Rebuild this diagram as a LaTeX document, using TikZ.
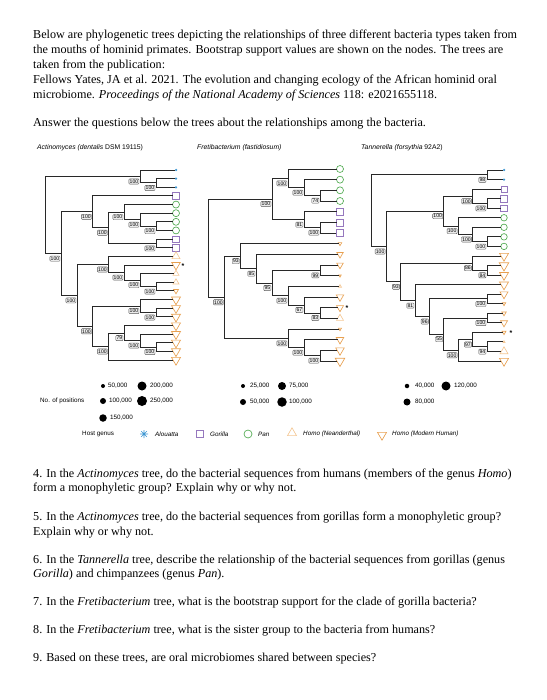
\documentclass[tikz,border=0pt]{standalone}
\usepackage{fontspec}
\setmainfont{Liberation Serif}
\setsansfont{Liberation Sans}
\usetikzlibrary{shapes.geometric}
\definecolor{aloc}{RGB}{60,150,210}
\definecolor{gorc}{RGB}{150,120,190}
\definecolor{panc}{RGB}{80,170,80}
\definecolor{neac}{RGB}{245,200,150}
\definecolor{modc}{RGB}{232,160,80}
\definecolor{brc}{RGB}{40,40,40}
\newcommand\tedge[2]{\draw[br] (#1) |- (#2);}
\newcommand\bsv[3]{\node[bs] (#1) at ([xshift=-0.8pt,yshift=-5pt]#2) {#3};}
\begin{document}
\begin{tikzpicture}[x=1pt,y=-1pt,
 br/.style={draw=brc,line width=0.9pt},
 bs/.style={draw=black!65,fill=black!8,rounded corners=0.9pt,line width=0.4pt,inner sep=0.8pt,anchor=east,font=\sffamily\fontsize{5.1}{5.1}\selectfont},
 tipsym/.style={inner sep=0pt,outer sep=0pt,fill=white,line width=0.65pt},
 alo/.style={circle,fill=aloc,inner sep=0pt,outer sep=0pt,minimum size=#1},
 gor/.style={tipsym,rectangle,draw=gorc,minimum size=#1},
 pan/.style={tipsym,circle,draw=panc,minimum size=#1},
 nea/.style={tipsym,regular polygon,regular polygon sides=3,draw=neac,minimum size={1.155*#1}},
 mod/.style={tipsym,regular polygon,regular polygon sides=3,shape border rotate=180,draw=modc,minimum size={1.155*#1}},
 starmk/.style={anchor=base,inner sep=0pt,font=\sffamily\bfseries\fontsize{7}{7}\selectfont},
 body/.style={anchor=base west,inner sep=0pt,font=\fontsize{12.15}{14}\selectfont},
 ttl/.style={anchor=west,inner sep=0pt,font=\sffamily\fontsize{6.8}{7}\selectfont},
 lg/.style={anchor=west,inner sep=0pt,font=\sffamily\fontsize{6.3}{7}\selectfont},
 dot/.style={circle,fill=black,inner sep=0pt,minimum size=#1}
]
\useasboundingbox (0,0) rectangle (546,700);
\fill[white] (0,0) rectangle (546,700);

% ---------------- text above ----------------
\node[body] (l1) at (33,38.5) {Below are phylogenetic trees depicting the relationships of three different bacteria types taken from};
\node[body] (l2) at (33,53.5) {the mouths of hominid primates. Bootstrap support values are shown on the nodes. The trees are};
\node[body] (l3) at (33,68.5) {taken from the publication:};
\node[body] (l4) at (33,83.5) {Fellows Yates, JA et al. 2021. The evolution and changing ecology of the African hominid oral};
\node[body] (l5) at (33,98.5) {microbiome. \textit{Proceedings of the National Academy of Sciences} 118: e2021655118.};
\node[body] (l6) at (33,126.5) {Answer the questions below the trees about the relationships among the bacteria.};

% ---------------- titles ----------------
\node[ttl] (ti1) at (37,148) {\textit{Actinomyces (dentalis} DSM 19115)};
\node[ttl] (ti2) at (197,148) {\textit{Fretibacterium (fastidiosum)}};
\node[ttl] (ti3) at (361,148) {\textit{Tannerella (forsythia} 92A2)};

% ================= Tree 1: Actinomyces =================
\node[alo=2.5] (a1) at (176,170.00) {};
\node[alo=2.5] (a2) at (176,178.64) {};
\node[alo=2.5] (a3) at (176,187.27) {};
\node[gor=6.5] (a4) at (176,195.91) {};
\node[pan=7] (a5) at (176,204.55) {};
\node[pan=7] (a6) at (176,213.18) {};
\node[pan=7] (a7) at (176,221.82) {};
\node[pan=7] (a8) at (176,230.45) {};
\node[gor=6.5] (a9) at (176,239.09) {};
\node[gor=6.5] (a10) at (176,247.73) {};
\node[nea=8] (a11) at (176,256.36) {};
\node[mod=8.5] (a12) at (176,265.00) {};
\node[nea=6] (a13) at (176,273.64) {};
\node[nea=6] (a14) at (176,282.27) {};
\node[mod=5] (a15) at (176,290.91) {};
\node[mod=9] (a16) at (176,299.55) {};
\node[mod=9] (a17) at (176,308.18) {};
\node[mod=9] (a18) at (176,316.82) {};
\node[mod=9] (a19) at (176,325.45) {};
\node[mod=9] (a20) at (176,334.09) {};
\node[mod=9] (a21) at (176,342.73) {};
\node[mod=9] (a22) at (176,351.36) {};
\node[mod=9] (a23) at (176,360.00) {};
\node[starmk] (as) at (183,268) {*};

\coordinate (an1) at (156,182.95);
\coordinate (an2) at (140,176.48);
\coordinate (an3) at (156,226.14);
\coordinate (an4) at (140,219.66);
\coordinate (an5) at (124,212.10);
\coordinate (an6) at (156,243.41);
\coordinate (an7) at (108.5,227.76);
\coordinate (an8) at (92.5,211.83);
\coordinate (an9) at (156,286.59);
\coordinate (an10) at (140,280.11);
\coordinate (an11) at (124,272.56);
\coordinate (an12) at (108.5,264.46);
\coordinate (an13) at (156,312.50);
\coordinate (an14) at (140,306.02);
\coordinate (an15) at (156,347.05);
\coordinate (an16) at (140,340.57);
\coordinate (an17) at (124,333.01);
\coordinate (an18) at (108.5,346.51);
\coordinate (an19) at (92.5,326.27);
\coordinate (an20) at (77,295.36);
\coordinate (an21) at (61,253.60);
\coordinate (an22) at (45,215.04);

\tedge{an1}{a2}\tedge{an1}{a3}
\tedge{an2}{a1}\tedge{an2}{an1}
\tedge{an3}{a7}\tedge{an3}{a8}
\tedge{an4}{a6}\tedge{an4}{an3}
\tedge{an5}{a5}\tedge{an5}{an4}
\tedge{an6}{a9}\tedge{an6}{a10}
\tedge{an7}{an5}\tedge{an7}{an6}
\tedge{an8}{a4}\tedge{an8}{an7}
\tedge{an9}{a14}\tedge{an9}{a15}
\tedge{an10}{a13}\tedge{an10}{an9}
\tedge{an11}{a12}\tedge{an11}{an10}
\tedge{an12}{a11}\tedge{an12}{an11}
\tedge{an13}{a17}\tedge{an13}{a18}
\tedge{an14}{a16}\tedge{an14}{an13}
\tedge{an15}{a21}\tedge{an15}{a22}
\tedge{an16}{a20}\tedge{an16}{an15}
\tedge{an17}{a19}\tedge{an17}{an16}
\tedge{an18}{an17}\tedge{an18}{a23}
\tedge{an19}{an14}\tedge{an19}{an18}
\tedge{an20}{an12}\tedge{an20}{an19}
\tedge{an21}{an8}\tedge{an21}{an20}
\tedge{an22}{an2}\tedge{an22}{an21}

\bsv{al1}{an1}{100}\bsv{al2}{an2}{100}\bsv{al3}{an3}{100}\bsv{al4}{an4}{100}
\bsv{al5}{an5}{100}\bsv{al6}{an6}{100}\bsv{al7}{an7}{100}\bsv{al8}{an8}{100}
\bsv{al9}{an9}{100}\bsv{al10}{an10}{100}\bsv{al11}{an11}{100}\bsv{al12}{an12}{100}
\bsv{al13}{an13}{100}\bsv{al14}{an14}{100}\bsv{al15}{an15}{100}\bsv{al16}{an16}{100}
\bsv{al17}{an17}{79}\bsv{al18}{an18}{100}\bsv{al19}{an19}{100}\bsv{al20}{an20}{100}
\bsv{al21}{an21}{100}

% ================= Tree 2: Fretibacterium =================
\node[pan=7] (f1) at (340,169.00) {};
\node[pan=7] (f2) at (340,179.67) {};
\node[pan=7] (f3) at (340,190.33) {};
\node[pan=7] (f4) at (340,201.00) {};
\node[gor=7] (f5) at (340,211.67) {};
\node[gor=7] (f6) at (340,222.33) {};
\node[gor=7.5] (f7) at (340,233.00) {};
\node[mod=3.5] (f8) at (340,243.67) {};
\node[mod=6.5] (f9) at (340,254.33) {};
\node[mod=6.5] (f10) at (340,265.00) {};
\node[mod=2.5] (f11) at (340,275.67) {};
\node[nea=3] (f12) at (340,286.33) {};
\node[mod=7.5] (f13) at (340,297.00) {};
\node[mod=7] (f14) at (340,307.67) {};
\node[nea=7] (f15) at (340,318.33) {};
\node[mod=3] (f16) at (340,329.00) {};
\node[mod=7.5] (f17) at (340,339.67) {};
\node[mod=8.5] (f18) at (340,350.33) {};
\node[mod=9.5] (f19) at (340,361.00) {};
\node[starmk] (fs) at (347,310.5) {*};

\coordinate (fn1) at (320,195.67);
\coordinate (fn2) at (304,187.67);
\coordinate (fn3) at (288,178.33);
\coordinate (fn4) at (320,227.67);
\coordinate (fn5) at (304,219.67);
\coordinate (fn6) at (272,199.00);
\coordinate (fn7) at (320,270.33);
\coordinate (fn8) at (320,313.00);
\coordinate (fn9) at (304,305.00);
\coordinate (fn10) at (288,295.67);
\coordinate (fn11) at (272,283.00);
\coordinate (fn12) at (256,268.67);
\coordinate (fn13) at (240.5,256.17);
\coordinate (fn14) at (320,355.67);
\coordinate (fn15) at (304,347.67);
\coordinate (fn16) at (288,338.33);
\coordinate (fn17) at (224.5,297.25);
\coordinate (fn18) at (208.5,248.13);

\tedge{fn1}{f3}\tedge{fn1}{f4}
\tedge{fn2}{f2}\tedge{fn2}{fn1}
\tedge{fn3}{f1}\tedge{fn3}{fn2}
\tedge{fn4}{f6}\tedge{fn4}{f7}
\tedge{fn5}{f5}\tedge{fn5}{fn4}
\tedge{fn6}{fn3}\tedge{fn6}{fn5}
\tedge{fn7}{f10}\tedge{fn7}{f11}
\tedge{fn8}{f14}\tedge{fn8}{f15}
\tedge{fn9}{f13}\tedge{fn9}{fn8}
\tedge{fn10}{f12}\tedge{fn10}{fn9}
\tedge{fn11}{fn7}\tedge{fn11}{fn10}
\tedge{fn12}{f9}\tedge{fn12}{fn11}
\tedge{fn13}{f8}\tedge{fn13}{fn12}
\tedge{fn14}{f18}\tedge{fn14}{f19}
\tedge{fn15}{f17}\tedge{fn15}{fn14}
\tedge{fn16}{f16}\tedge{fn16}{fn15}
\tedge{fn17}{fn13}\tedge{fn17}{fn16}
\tedge{fn18}{fn6}\tedge{fn18}{fn17}

\bsv{fl1}{fn1}{74}\bsv{fl2}{fn2}{100}\bsv{fl3}{fn3}{100}\bsv{fl4}{fn4}{100}
\bsv{fl5}{fn5}{81}\bsv{fl6}{fn6}{100}\bsv{fl7}{fn7}{99}\bsv{fl8}{fn8}{83}
\bsv{fl9}{fn9}{67}\bsv{fl10}{fn10}{100}\bsv{fl11}{fn11}{95}\bsv{fl12}{fn12}{85}
\bsv{fl13}{fn13}{93}\bsv{fl14}{fn14}{100}\bsv{fl15}{fn15}{100}\bsv{fl16}{fn16}{100}
\bsv{fl17}{fn17}{100}

% ================= Tree 3: Tannerella =================
\node[alo=2.5] (t1) at (504,170.00) {};
\node[alo=2.5] (t2) at (504,179.55) {};
\node[gor=6] (t3) at (504,189.10) {};
\node[gor=6.5] (t4) at (504,198.65) {};
\node[gor=6.5] (t5) at (504,208.20) {};
\node[pan=6.5] (t6) at (504,217.75) {};
\node[pan=6.5] (t7) at (504,227.30) {};
\node[pan=6.5] (t8) at (504,236.85) {};
\node[pan=6.5] (t9) at (504,246.40) {};
\node[mod=9] (t10) at (504,255.95) {};
\node[mod=9.5] (t11) at (504,265.50) {};
\node[mod=9] (t12) at (504,275.05) {};
\node[mod=9] (t13) at (504,284.60) {};
\node[mod=8] (t14) at (504,294.15) {};
\node[mod=3.5] (t15) at (504,303.70) {};
\node[mod=4.5] (t16) at (504,313.25) {};
\node[mod=7] (t17) at (504,322.80) {};
\node[mod=4] (t18) at (504,332.35) {};
\node[nea=2] (t19) at (504,341.90) {};
\node[nea=8] (t20) at (504,351.45) {};
\node[mod=9] (t21) at (504,361.00) {};
\node[starmk] (ts) at (511,335.3) {*};

\coordinate (tn1) at (487,174.78);
\coordinate (tn2) at (487,203.43);
\coordinate (tn3) at (472.6,196.26);
\coordinate (tn4) at (487,241.63);
\coordinate (tn5) at (472.6,234.46);
\coordinate (tn6) at (458.2,226.11);
\coordinate (tn7) at (443.8,211.18);
\coordinate (tn8) at (487,270.28);
\coordinate (tn9) at (472.6,263.11);
\coordinate (tn10) at (487,298.93);
\coordinate (tn11) at (487,318.03);
\coordinate (tn12) at (487,346.68);
\coordinate (tn13) at (472.6,339.51);
\coordinate (tn14) at (458.2,350.26);
\coordinate (tn15) at (443.8,334.14);
\coordinate (tn16) at (429.4,316.54);
\coordinate (tn17) at (415,300.57);
\coordinate (tn18) at (400.6,281.84);
\coordinate (tn19) at (386.2,246.51);
\coordinate (tn20) at (371.8,210.64);

\tedge{tn1}{t1}\tedge{tn1}{t2}
\tedge{tn2}{t4}\tedge{tn2}{t5}
\tedge{tn3}{t3}\tedge{tn3}{tn2}
\tedge{tn4}{t8}\tedge{tn4}{t9}
\tedge{tn5}{t7}\tedge{tn5}{tn4}
\tedge{tn6}{t6}\tedge{tn6}{tn5}
\tedge{tn7}{tn3}\tedge{tn7}{tn6}
\tedge{tn8}{t11}\tedge{tn8}{t12}
\tedge{tn9}{t10}\tedge{tn9}{tn8}
\tedge{tn10}{t14}\tedge{tn10}{t15}
\tedge{tn11}{t16}\tedge{tn11}{t17}
\tedge{tn12}{t19}\tedge{tn12}{t20}
\tedge{tn13}{t18}\tedge{tn13}{tn12}
\tedge{tn14}{tn13}\tedge{tn14}{t21}
\tedge{tn15}{tn11}\tedge{tn15}{tn14}
\tedge{tn16}{tn10}\tedge{tn16}{tn15}
\tedge{tn17}{t13}\tedge{tn17}{tn16}
\tedge{tn18}{tn9}\tedge{tn18}{tn17}
\tedge{tn19}{tn7}\tedge{tn19}{tn18}
\tedge{tn20}{tn1}\tedge{tn20}{tn19}

\bsv{tl1}{tn1}{98}\bsv{tl2}{tn2}{100}\bsv{tl3}{tn3}{100}\bsv{tl4}{tn4}{100}
\bsv{tl5}{tn5}{100}\bsv{tl6}{tn6}{100}\bsv{tl7}{tn7}{100}\bsv{tl8}{tn8}{84}
\bsv{tl9}{tn9}{86}\bsv{tl10}{tn10}{100}\bsv{tl11}{tn11}{100}\bsv{tl12}{tn12}{94}
\bsv{tl13}{tn13}{97}\bsv{tl14}{tn14}{100}\bsv{tl15}{tn15}{55}\bsv{tl16}{tn16}{96}
\bsv{tl17}{tn17}{81}\bsv{tl18}{tn18}{93}\bsv{tl19}{tn19}{100}

% ================= Legends =================
\node[lg] (np) at (40,401) {No. of positions};
\node[dot=4] (d1) at (103,386) {};   \node[lg] (d1t) at (108,386) {50,000};
\node[dot=6] (d2) at (103,401) {};   \node[lg] (d2t) at (109,401) {100,000};
\node[dot=7.5] (d3) at (103,418) {}; \node[lg] (d3t) at (110,418) {150,000};
\node[dot=9] (d4) at (142,386) {};   \node[lg] (d4t) at (150,386) {200,000};
\node[dot=10] (d5) at (142,401) {};  \node[lg] (d5t) at (150,401) {250,000};

\node[dot=4] (e1) at (243,386) {};   \node[lg] (e1t) at (250,386) {25,000};
\node[dot=6] (e2) at (243,402) {};   \node[lg] (e2t) at (250,402) {50,000};
\node[dot=8] (e3) at (282,386) {};   \node[lg] (e3t) at (289,386) {75,000};
\node[dot=9.5] (e4) at (282,402) {}; \node[lg] (e4t) at (289,402) {100,000};

\node[dot=4.5] (g1) at (407,386) {}; \node[lg] (g1t) at (415,386) {40,000};
\node[dot=7] (g2) at (407,402) {};   \node[lg] (g2t) at (415,402) {80,000};
\node[dot=9] (g3) at (446,386) {};   \node[lg] (g3t) at (454,386) {120,000};

\node[lg] (hg) at (82,434) {Host genus};
\draw[aloc,line width=0.6pt] (140,434) -- (148,434) (144,430) -- (144,438)
  (141.2,431.2) -- (146.8,436.8) (141.2,436.8) -- (146.8,431.2);
\node[lg] (hg1) at (155,434) {\textit{Alouatta}};
\node[gor=7.5] (hgs) at (200,434) {};
\node[lg] (hg2) at (210,434) {\textit{Gorilla}};
\node[pan=8] (hgc) at (248,434) {};
\node[lg] (hg3) at (258,434) {\textit{Pan}};
\node[nea=9] (hgu) at (292,433) {};
\node[lg] (hg4) at (303,434) {\textit{Homo (Neanderthal)}};
\node[mod=9] (hgd) at (382,435) {};
\node[lg] (hg5) at (392,434) {\textit{Homo (Modern Human)}};

% ================= Questions =================
\node[body] (q4a) at (33,477.5) {4. In the \textit{Actinomyces} tree, do the bacterial sequences from humans (members of the genus \textit{Homo})};
\node[body] (q4b) at (33,491.5) {form a monophyletic group? Explain why or why not.};
\node[body] (q5a) at (33,520.5) {5. In the \textit{Actinomyces} tree, do the bacterial sequences from gorillas form a monophyletic group?};
\node[body] (q5b) at (33,535.5) {Explain why or why not.};
\node[body] (q6a) at (33,563.5) {6. In the \textit{Tannerella} tree, describe the relationship of the bacterial sequences from gorillas (genus};
\node[body] (q6b) at (33,577.5) {\textit{Gorilla}) and chimpanzees (genus \textit{Pan}).};
\node[body] (q7) at (33,605.5) {7. In the \textit{Fretibacterium} tree, what is the bootstrap support for the clade of gorilla bacteria?};
\node[body] (q8) at (33,633.5) {8. In the \textit{Fretibacterium} tree, what is the sister group to the bacteria from humans?};
\node[body] (q9) at (33,661.5) {9. Based on these trees, are oral microbiomes shared between species?};
\end{tikzpicture}
\end{document}
